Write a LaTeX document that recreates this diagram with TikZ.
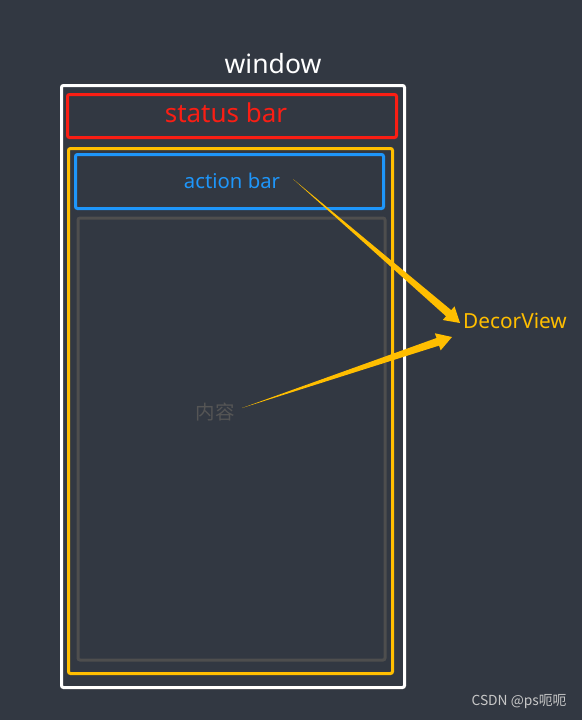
\documentclass[tikz,border=0pt]{standalone}
\usepackage{fontspec}
\setmainfont{Noto Sans}
\newfontfamily\cjk{Noto Sans CJK SC}
\usetikzlibrary{calc}
\definecolor{bg}{RGB}{50,56,66}
\definecolor{sred}{RGB}{250,30,20}
\definecolor{syel}{RGB}{255,190,0}
\definecolor{sblue}{RGB}{30,150,250}
\definecolor{sgrey}{RGB}{78,78,78}
\definecolor{cgrey}{RGB}{85,85,85}
\definecolor{wm}{RGB}{200,200,200}
\tikzset{
  frame/.style={line width=3pt, rounded corners=2pt},
  tapered/.style={fill=syel, draw=none},
}
\newcommand{\taperarrow}[2]{%
  \fill[tapered] (#1) -- ($($(#2)!15pt!(#1)$)!4pt!90:(#2)$) -- ($($(#2)!15pt!(#1)$)!9pt!90:(#2)$) -- (#2)
   -- ($($(#2)!15pt!(#1)$)!9pt!-90:(#2)$) -- ($($(#2)!15pt!(#1)$)!4pt!-90:(#2)$) -- cycle;}
\begin{document}
\begin{tikzpicture}[x=1pt,y=-1pt]
\fill[bg] (0,0) rectangle (582,720);
\useasboundingbox (0,0) rectangle (582,720);
\draw[frame, white] (61.5,85.5) rectangle (404.5,687.5);
\draw[frame, sred] (67.5,94.5) rectangle (396.5,137.5);
\draw[frame, syel] (68.5,148.5) rectangle (392.5,673.5);
\draw[frame, sblue] (75.5,154.5) rectangle (383.5,208.5);
\draw[frame, sgrey] (78,218) rectangle (385,660);
\node[text=white, font=\fontsize{26.5}{30}\selectfont] (win) at (273,64) {window};
\node[text=sred, font=\fontsize{26}{30}\selectfont] (sb) at (226,113) {status bar};
\node[text=sblue, font=\fontsize{20.3}{24}\selectfont] (ab) at (232,181) {action bar};
\node[text=cgrey, font=\cjk\fontsize{19.5}{23}\selectfont] (nr) at (215,412) {内容};
\node[text=syel, font=\fontsize{20.8}{24}\selectfont, anchor=west, inner sep=0pt] (dv) at (463,321) {DecorView};
\node[text=wm, font=\cjk\fontsize{13.8}{16}\selectfont] (mark) at (519,702) {CSDN @ps呃呃};
\coordinate (a1s) at (293,179);
\coordinate (a1e) at (460,323);
\coordinate (a2s) at (242,408);
\coordinate (a2e) at (452,337);
\taperarrow{a1s}{a1e}
\taperarrow{a2s}{a2e}
\end{tikzpicture}
\end{document}
